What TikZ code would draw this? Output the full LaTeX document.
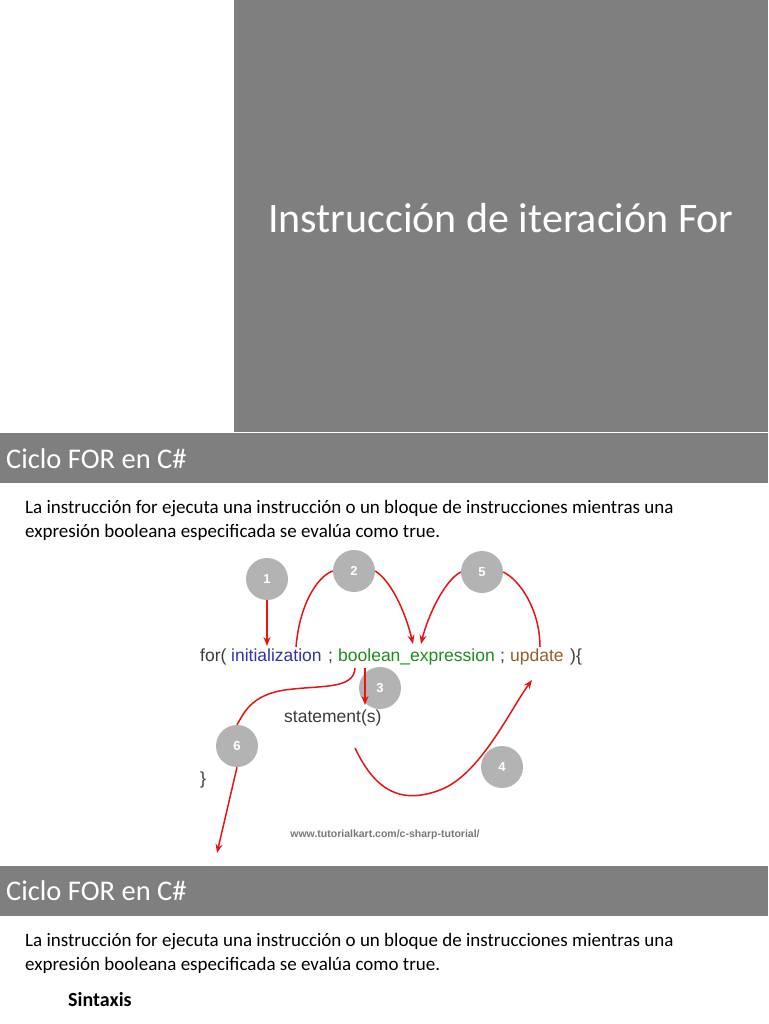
\documentclass[tikz,border=0pt]{standalone}
\usepackage{fontspec}
\setmainfont{Carlito}
\newfontfamily\arial{Liberation Sans}
\usetikzlibrary{arrows.meta}
\definecolor{band}{HTML}{7F7F7F}
\definecolor{circ}{HTML}{B3B3B3}
\begin{document}
\begin{tikzpicture}[x=1pt,y=-1pt,
  num/.style={circle,fill=circ,minimum size=42pt,inner sep=0,font=\arial\bfseries\fontsize{13}{13}\selectfont,text=white},
  red/.style={draw={rgb,255:red,230;green,20;blue,20},line width=1.5pt},
  redarr/.style={red,-{Stealth[length=9pt,width=7pt]}},
  code/.style={font=\arial\fontsize{17.5}{17.5}\selectfont,inner sep=0,anchor=base west},
  para/.style={font=\fontsize{19}{23}\selectfont,anchor=west,inner sep=0}]
\useasboundingbox (0,0) rectangle (768,1024);
\fill[white] (0,0) rectangle (768,1024);
\fill[band] (234,0) rectangle (768,432);
\node[text=white,font=\fontsize{42}{42}\selectfont] (title) at (501,218) {Instrucción de iteración For};
\fill[band] (0,433) rectangle (768,483);
\node[text=white,font=\fontsize{28.5}{28.5}\selectfont,anchor=west,inner sep=0] (h1) at (6,459) {Ciclo FOR en C\#};
\node[para] (p1) at (25,509) {La instrucción for ejecuta una instrucción o un bloque de instrucciones mientras una};
\node[para] (p2) at (25,532) {expresión booleana especificada se evalúa como true.};
% code
\node[code,text={rgb,255:red,60;green,60;blue,60}] (for) at (200,661) {for(};
\node[code,text={rgb,255:red,50;green,50;blue,170}] (init) at (231,661) {initialization};
\node[code,text={rgb,255:red,60;green,60;blue,60}] (s1) at (328,661) {;};
\node[code,text={rgb,255:red,30;green,140;blue,30}] (bool) at (338,661) {boolean\_expression};
\node[code,text={rgb,255:red,60;green,60;blue,60}] (s2) at (500,661) {;};
\node[code,text={rgb,255:red,150;green,95;blue,40}] (upd) at (510,661) {update};
\node[code,text={rgb,255:red,60;green,60;blue,60}] (br) at (570,661) {)\{};
\node[code,text={rgb,255:red,60;green,60;blue,60}] (stmt) at (284,722) {statement(s)};
\node[code,text={rgb,255:red,60;green,60;blue,60}] (cb) at (200,784) {\}};
\node[font=\arial\bfseries\fontsize{10.5}{10.5}\selectfont,text={rgb,255:red,120;green,120;blue,120}] (url) at (385,835) {www.tutorialkart.com/c-sharp-tutorial/};
\node[num] (n1) at (267,579) {1};
\node[num] (n2) at (354,571) {2};
\node[num] (n5) at (482,572) {5};
\node[num] (n3) at (380,688) {3};
\node[num] (n6) at (237,746) {6};
\node[num] (n4) at (502,767) {4};
\coordinate (a1) at (267,646);
\coordinate (b2) at (296,647); \coordinate (e2) at (413,644);
\coordinate (e5) at (421,644); \coordinate (b5) at (540,647);
\coordinate (b3) at (365,668); \coordinate (e3) at (365,705);
\coordinate (b6) at (355,668); \coordinate (e6) at (217,853);
\coordinate (b4) at (355,748); \coordinate (e4) at (532,680);
\draw[redarr] (n1) -- (a1);
\draw[red] (b2) .. controls (300,600) and (320,575) .. (n2.west);
\draw[redarr] (n2.east) .. controls (390,580) and (405,610) .. (e2);
\draw[redarr] (n5.west) .. controls (445,580) and (428,615) .. (e5);
\draw[red] (n5.east) .. controls (520,580) and (540,610) .. (b5);
\draw[redarr] (b3) -- (e3);
\draw[red] (b6) .. controls (354,690) and (320,685) .. (285,690) .. controls (250,695) and (243,715) .. (n6.north);
\draw[redarr] (n6.south) -- (e6);
\draw[redarr] (b4) .. controls (375,790) and (400,805) .. (440,790) .. controls (480,775) and (510,710) .. (e4);
% second band
\fill[band] (0,866) rectangle (768,916);
\node[text=white,font=\fontsize{28.5}{28.5}\selectfont,anchor=west,inner sep=0] (h2) at (6,891) {Ciclo FOR en C\#};
\node[para] (p3) at (25,942) {La instrucción for ejecuta una instrucción o un bloque de instrucciones mientras una};
\node[para] (p4) at (25,965) {expresión booleana especificada se evalúa como true.};
\node[para,font=\bfseries\fontsize{20}{23}\selectfont] (sx) at (68,1000) {Sintaxis};
\end{tikzpicture}
\end{document}
